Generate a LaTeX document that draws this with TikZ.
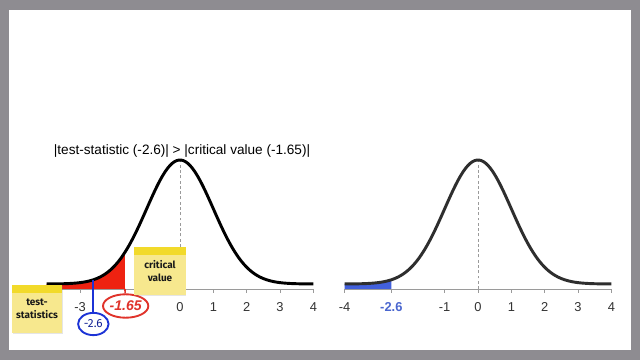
\documentclass[tikz,border=0pt]{standalone}
\usepackage{fontspec}
\setmainfont{Liberation Sans}
\newfontfamily\notefont{Fira Sans}
\usetikzlibrary{positioning,shapes.geometric,shadows}

\definecolor{framegray}{HTML}{8E8C91}
\definecolor{axisgray}{HTML}{9A9A9A}
\definecolor{ticktext}{HTML}{333333}
\definecolor{notebody}{HTML}{F7E88E}
\definecolor{notetop}{HTML}{F2DA2A}
\definecolor{redfill}{HTML}{EE2211}
\definecolor{redring}{HTML}{E0332B}
\definecolor{bluefill}{HTML}{4260DC}
\definecolor{bluering}{HTML}{1C33D6}
\definecolor{bluelbl}{HTML}{4A66CF}
\definecolor{curvegray}{HTML}{2E2E2E}

\begin{document}
\begin{tikzpicture}[x=0.03cm, y=0.03cm,
	curve/.style={line width=2.5pt, line join=round},
	axis/.style={draw=axisgray, line width=0.6pt},
	dashline/.style={draw=axisgray, line width=0.6pt, dash pattern=on 2.5pt off 2pt},
	ticklbl/.style={anchor=base, inner sep=0pt, text=ticktext, font=\fontsize{11}{13}\selectfont},
	note/.style={fill=notebody, minimum width=43pt, minimum height=40.5pt, inner sep=1pt,
		align=center, text=black!90, font=\notefont\bfseries\fontsize{8.5}{11}\selectfont,
		drop shadow={opacity=0.2, shadow xshift=0.6pt, shadow yshift=-0.8pt},
		path picture={\fill[notetop] (path picture bounding box.north west)
			rectangle ([yshift=-6.8pt]path picture bounding box.north east);}},
	ring/.style={shape=ellipse, draw, line width=1.6pt, inner sep=0pt}]
	
	\useasboundingbox (0,0) rectangle (640,360);
	\fill[framegray] (0,0) rectangle (640,360);
	\fill[white] (9,10) rectangle (631,350);
	
	\node[font=\fontsize{11.6}{14}\selectfont, text=black] (title) at (182,209)
		{|test-statistic (-2.6)| > |critical value (-1.65)|};
	
	% left curve
	\begin{scope}[shift={(180,71)}, x=1cm, y=0.03cm]
		\fill[redfill] (-4,0) -- plot[domain=-4:-1.65, samples=40] (\x, {5+124*exp(-0.5*(\x)*(\x))}) -- (-1.65,0) -- cycle;
		\draw[axis] (-4,0) -- (4,0);
		\foreach \t in {-4,-3,0,1,2,3,4}
			\draw[axis] (\t,0) -- (\t,-4);
		\foreach \t/\n in {-3/m3,0/z,1/p1,2/p2,3/p3,4/p4}
			\node[ticklbl] (l\n) at (\t,-22) {\t};
		\draw[dashline] (0,0) -- (0,129);
		\draw[curve, black] plot[domain=-4:4, samples=120, smooth] (\x, {5+124*exp(-0.5*(\x)*(\x))});
		
		\coordinate (tstop) at (-2.6, {5+124*exp(-0.5*2.6*2.6)});
		\coordinate (cvfoot) at (-1.65,0);
		\node[ring, draw=bluering, minimum width=26pt, minimum height=19pt, text=bluering!70!black,
			font=\notefont\fontsize{10}{11}\selectfont] (tsval) at (-2.6,-35) {-2.6};
		\node[ring, draw=redring, minimum width=37pt, minimum height=20pt, text=redring,
			font=\bfseries\itshape\fontsize{12}{14}\selectfont] (cvval) at (-1.63,-17) {-1.65};
		\draw[bluering, line width=1.6pt] (tstop) -- (tsval);
		\draw[redring, line width=1.4pt] (cvfoot) -- (cvval);
	\end{scope}
	
	% right curve
	\begin{scope}[shift={(478,71)}, x=1cm, y=0.03cm]
		\fill[bluefill] (-4,0) -- plot[domain=-4:-2.6, samples=30] (\x, {5+124*exp(-0.5*(\x)*(\x))}) -- (-2.6,0) -- cycle;
		\draw[axis] (-4,0) -- (4,0);
		\foreach \t in {-4,-2.6,-1,0,1,2,3,4}
			\draw[axis] (\t,0) -- (\t,-4);
		\foreach \t/\n in {-4/m4,-1/m1,0/z,1/p1,2/p2,3/p3,4/p4}
			\node[ticklbl] (r\n) at (\t,-22) {\t};
		\node[ticklbl, text=bluelbl, font=\bfseries\fontsize{11}{13}\selectfont] (rts) at (-2.6,-22) {-2.6};
		\draw[dashline] (0,0) -- (0,129);
		\draw[curve, curvegray] plot[domain=-4:4, samples=120, smooth] (\x, {5+124*exp(-0.5*(\x)*(\x))});
	\end{scope}
	
	% sticky notes
	\node[note] (tsnote) at (37,51) {test-\\statistics};
	\node[note, minimum width=44pt] (cvnote) at (160,89) {critical\\value};
	
\end{tikzpicture}
\end{document}
